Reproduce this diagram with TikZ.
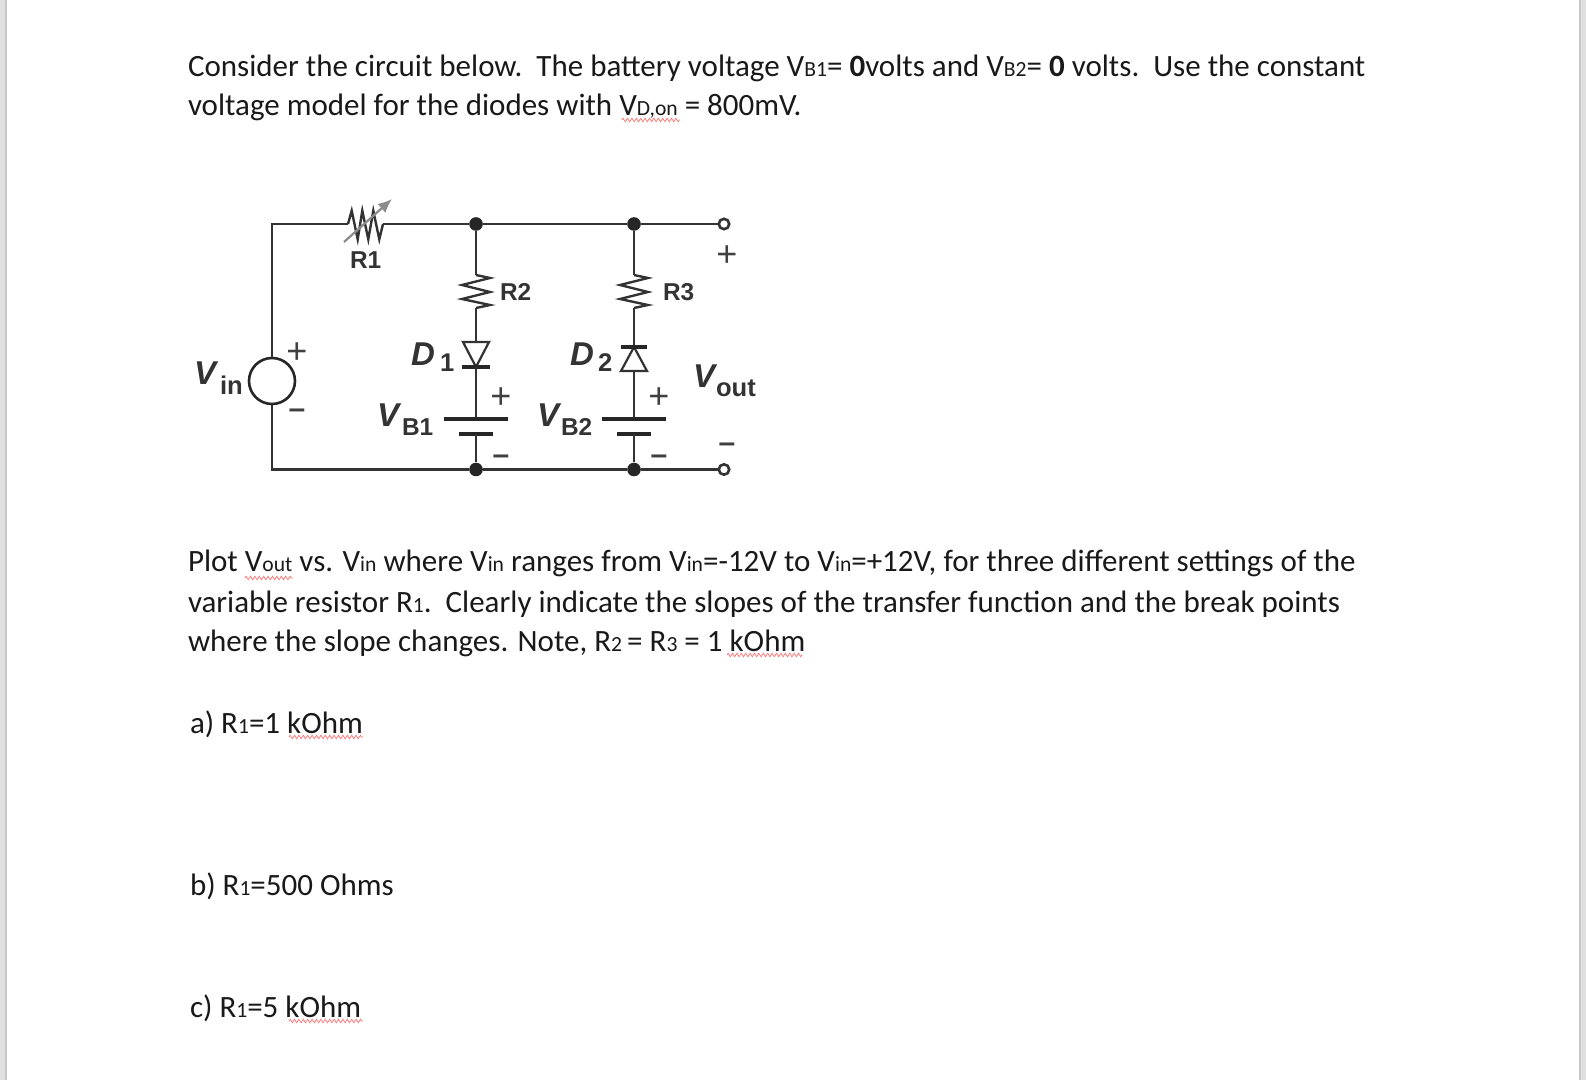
\documentclass[tikz,border=0pt]{standalone}
\usepackage{fontspec}
\setmainfont{Carlito}
\newfontfamily\cirfont{Liberation Sans}
\usetikzlibrary{decorations.pathmorphing,arrows.meta}
\newcommand{\sbs}[1]{{\fontsize{10.8}{10.8}\selectfont #1}}
\tikzset{
  txt/.style={anchor=base west,inner sep=0pt,outer sep=0pt,font=\fontsize{15.5}{15.5}\selectfont,text=black!90},
  wire/.style={line width=1.4pt,draw=black!80},
  res/.style={line width=1.2pt,draw=black!80,line join=miter},
  dot/.style={circle,fill=black!85,inner sep=0pt,minimum size=6.8pt},
  term/.style={circle,draw=black!80,fill=white,line width=1.3pt,inner sep=0pt,minimum size=5.2pt},
  src/.style={circle,draw=black!85,fill=white,line width=1.3pt,inner sep=0pt,minimum size=23pt},
  lab/.style={anchor=base west,inner sep=0pt,outer sep=0pt,text=black!80,font=\fontsize{12.2}{12.2}\cirfont\bfseries},
  big/.style={lab,font=\fontsize{16.5}{16.5}\cirfont\bfseries\itshape},
  sml/.style={lab,font=\fontsize{12.8}{12.8}\cirfont\bfseries},
  sgn/.style={inner sep=0pt,outer sep=0pt,text=black!75,font=\fontsize{18}{18}\cirfont},
  sgm/.style={inner sep=0pt,outer sep=0pt,text=black!75,font=\fontsize{15}{15}\cirfont\bfseries},
  plate/.style={line width=2.4pt,draw=black!85},
  squig/.style={draw=red!55!white,line width=0.35pt,decorate,decoration={zigzag,amplitude=0.9pt,segment length=2.2pt}},
}
\begin{document}
\begin{tikzpicture}[x=0.5pt,y=-0.5pt]
\useasboundingbox (0,0) rectangle (1586,1080);
\fill[white] (0,0) rectangle (1586,1080);
\fill[black!12] (0,0) rectangle (6,1080);
\fill[black!22] (5,0) rectangle (7,1080);
\fill[black!12] (1580,0) rectangle (1586,1080);
\fill[black!22] (1579,0) rectangle (1581,1080);
% text
\node[txt] (t1) at (188,77) {Consider the circuit below.\ \ The battery voltage V\sbs{B1}= \textbf{0}volts and V\sbs{B2}= \textbf{0} volts.\ \ Use the constant};
\node[txt] (t2) at (188,116) {voltage model for the diodes with V\sbs{D,on} = 800mV.};
\node[txt] (t3) at (188,572) {Plot V\sbs{out} vs. V\sbs{in} where V\sbs{in} ranges from V\sbs{in}=-12V to V\sbs{in}=+12V, for three different settings of the};
\node[txt] (t4) at (188,612) {variable resistor R\sbs{1}.\ \ Clearly indicate the slopes of the transfer function and the break points};
\node[txt] (t5) at (188,651.5) {where the slope changes. Note, R\sbs{2}\,= R\sbs{3} = 1 kOhm};
\node[txt] (ta) at (190,733) {a) R\sbs{1}=1 kOhm};
\node[txt] (tb) at (190,895) {b) R\sbs{1}=500 Ohms};
\node[txt] (tc) at (190,1017) {c) R\sbs{1}=5 kOhm};
% squiggles
\draw[squig] (622,120) -- (680,120);
\draw[squig] (245,578) -- (293,578);
\draw[squig] (727,655) -- (802,655);
\draw[squig] (289,737) -- (363,737);
\draw[squig] (289,1021) -- (363,1021);
% nodes
\node[dot] (n1) at (476,224) {};
\node[dot] (n2) at (634,224) {};
\node[dot] (n3) at (476,469.5) {};
\node[dot] (n4) at (634,469.5) {};
\node[term] (o1) at (724,224) {};
\node[term] (o2) at (724,469.5) {};
\node[src] (vs) at (272,381) {};
\coordinate (c1) at (272,224);
\coordinate (c2) at (272,469.5);
\coordinate (r1a) at (348,224);
\coordinate (r1b) at (383,224);
% wires
\draw[wire] (vs) -- (c1) -- (r1a);
\draw[wire] (vs) -- (c2) -- (n3);
\draw[wire] (r1b) -- (n1);
\draw[wire] (n1) -- (n2);
\draw[wire] (n2) -- (o1);
\draw[wire] (n3) -- (n4);
\draw[wire] (n4) -- (o2);
% R1
\draw[res] (r1a) -- (351.7,210.7) -- (357.7,239.3) -- (362.3,210.7) -- (368.3,239.3) -- (373.3,210.7) -- (379.3,239.3) -- (r1b);
\draw[line width=1.1pt,draw=black!45,-{Latex[length=7pt,width=6pt]}] (344,242) -- (392,199);
% branch 1
\coordinate (r2a) at (476,275);
\coordinate (r2b) at (476,308);
\coordinate (d1a) at (476,342);
\coordinate (d1k) at (476,367);
\coordinate (b1p) at (476,419);
\coordinate (b1m) at (476,434);
\draw[wire] (n1) -- (r2a);
\draw[res] (r2a) -- (490,278) -- (462,285) -- (490,292) -- (462,299) -- (490,305) -- (r2b);
\draw[wire] (r2b) -- (d1a);
\draw[line width=1.1pt,draw=black!80,fill=white,line join=miter] (463,342) -- (489,342) -- (d1k) -- cycle;
\draw[plate] (462,367) -- (490,367);
\draw[wire] (d1k) -- (b1p);
\draw[plate] (444,419) -- (508,419);
\draw[plate] (459,434) -- (493,434);
\draw[wire] (b1m) -- (n3);
% branch 2
\coordinate (r3a) at (634,275);
\coordinate (r3b) at (634,308);
\coordinate (d2k) at (634,347);
\coordinate (d2a) at (634,371);
\coordinate (b2p) at (634,419);
\coordinate (b2m) at (634,434);
\draw[wire] (n2) -- (r3a);
\draw[res] (r3a) -- (648,278) -- (620,285) -- (648,292) -- (620,299) -- (648,305) -- (r3b);
\draw[wire] (r3b) -- (d2k);
\draw[line width=1.1pt,draw=black!80,fill=white,line join=miter] (621,371) -- (647,371) -- (d2k) -- cycle;
\draw[plate] (621,347) -- (647,347);
\draw[wire] (d2a) -- (b2p);
\draw[plate] (602,419) -- (666,419);
\draw[plate] (617,434) -- (651,434);
\draw[wire] (b2m) -- (n4);
% labels
\node[lab] (lr1) at (350,269) {R1};
\node[lab] (lr2) at (500,301) {R2};
\node[lab] (lr3) at (663,301) {R3};
\node[big] (lv) at (194,385) {V};
\node[sml] (lvs) at (220,395) {in};
\node[big] (ld1) at (411,366) {D};
\node[sml] (ld1s) at (440,372) {1};
\node[big] (ld2) at (570,366) {D};
\node[sml] (ld2s) at (598,372) {2};
\node[big] (lb1) at (377,427) {V};
\node[lab] (lb1s) at (402,436) {B1};
\node[big] (lb2) at (537,427) {V};
\node[lab] (lb2s) at (561,436) {B2};
\node[big] (lo) at (693,388) {V};
\node[sml] (los) at (716,397) {out};
\node[sgn] (p1) at (297,353) {+};
\node[sgm] (m1) at (297,414) {–};
\node[sgn] (p2) at (501,398) {+};
\node[sgm] (m2) at (501,460) {–};
\node[sgn] (p3) at (659,398) {+};
\node[sgm] (m3) at (659,460) {–};
\node[sgn] (p4) at (727,256) {+};
\node[sgm] (m4) at (727,448) {–};
\end{tikzpicture}
\end{document}
